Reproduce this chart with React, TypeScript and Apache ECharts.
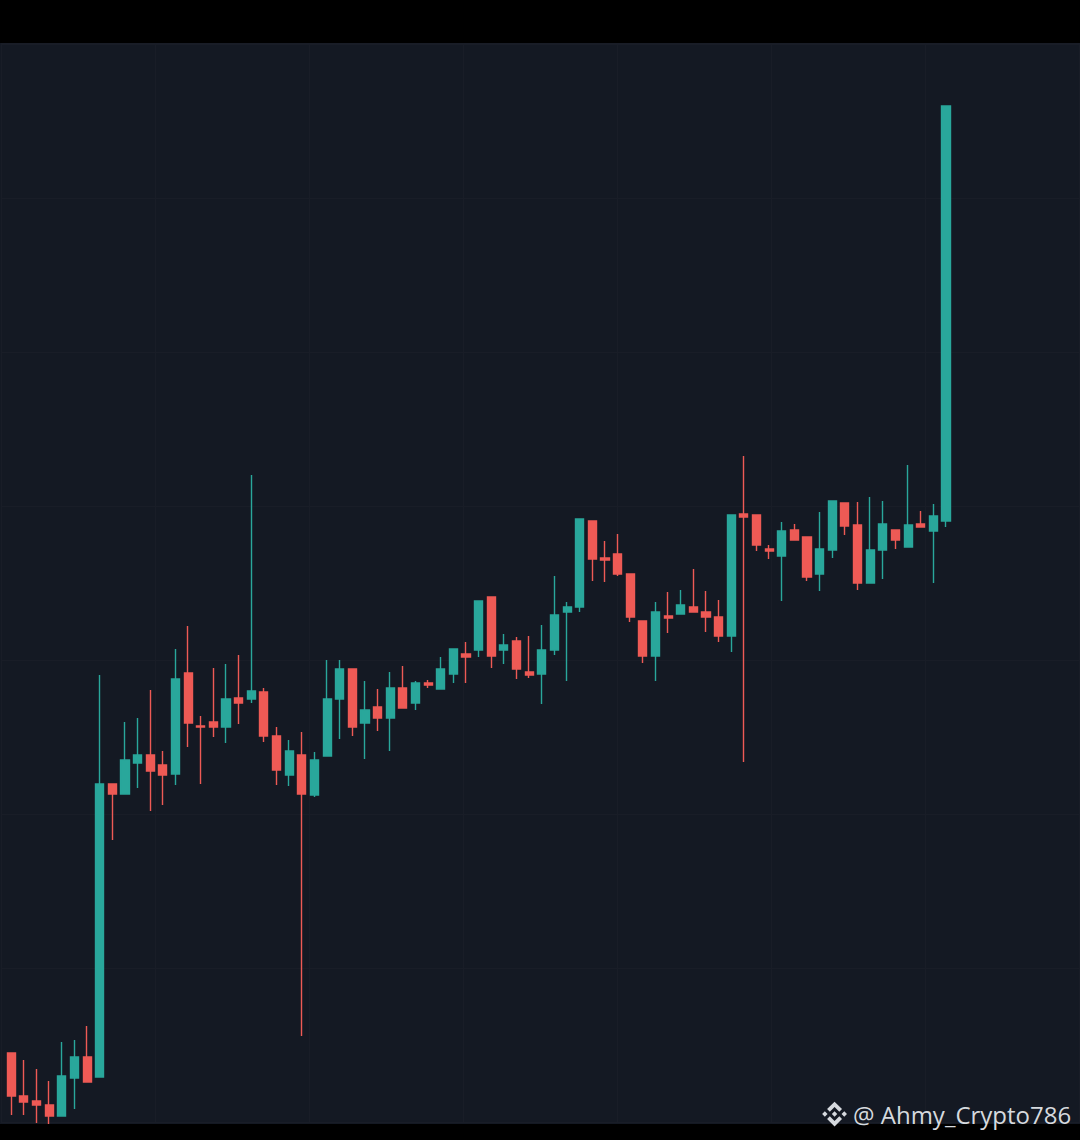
import React, { useEffect, useRef } from "react";
import * as echarts from "echarts";

const opens = [69,26,21,17,6,44,65,45,338,328,359,367,357,348,449,396,400,395,424,423,430,386,347,367,327,366,423,453,399,415,404,434,419,439,433,448,468,472,525,472,481,450,448,472,510,515,601,564,568,548,501,466,506,508,515,510,505,486,608,607,573,566,592,585,548,572,619,597,539,572,592,575,598,591,601];
const closes = [26,20,17,6,46,65,40,338,328,362,367,351,347,443,399,395,395,423,419,431,386,352,371,328,362,423,453,395,412,404,434,414,439,437,453,473,465,521,466,477,453,447,472,507,515,603,563,562,548,505,466,510,504,517,510,505,486,607,605,577,571,591,582,545,573,621,596,539,572,598,582,597,595,606,1016];
const lows = [7,7,-1,-2,6,13,40,45,282,328,334,311,317,337,375,338,385,379,398,419,380,337,336,86,325,366,383,386,363,391,371,414,412,434,433,439,439,465,454,458,443,444,418,467,441,510,541,540,546,500,459,441,489,508,510,490,480,470,360,571,563,521,582,541,531,564,587,532,539,543,573,575,595,539,595];
const highs = [69,62,53,41,80,82,96,447,338,400,404,432,371,473,496,406,454,458,467,647,434,395,382,390,370,462,462,453,441,433,450,456,441,442,465,473,480,521,525,488,485,486,497,546,520,603,601,581,588,548,501,520,530,532,553,531,522,607,666,607,577,600,598,585,610,621,619,620,625,621,592,657,611,618,1016];
const emptySlots = 10;
const watermark = "@ Ahmy_Crypto786";

const UP = "#29a79b";
const DOWN = "#ee5a55";
const GRID = "#191d27";
const BG = "#141923";

echarts.graphic.registerShape(
  "logo",
  echarts.graphic.extendPath(
    "M12 1 L18.6 7.6 L16.2 10 L12 5.8 L7.8 10 L5.4 7.6 Z M3.4 9.6 L5.8 12 L3.4 14.4 L1 12 Z M12 9.6 L14.4 12 L12 14.4 L9.6 12 Z M20.6 9.6 L23 12 L20.6 14.4 L18.2 12 Z M7.8 14 L12 18.2 L16.2 14 L18.6 16.4 L12 23 L5.4 16.4 Z",
    {}
  )
);

export default function App() {
  const ref = useRef<HTMLDivElement>(null);
  useEffect(() => {
    document.body.style.margin = "0";
    const chart = echarts.init(ref.current!, undefined, { renderer: "svg" });
    const categories = Array.from({ length: opens.length + emptySlots }, (_, i) => String(i + 1));
    chart.setOption({
      animation: false,
      backgroundColor: BG,
      grid: [
        { left: 5, top: 43, width: 1073.6, height: 1079, show: false },
        { left: 1, top: 43, right: 0, height: 1079, show: false },
      ],
      xAxis: [
        { type: "category", gridIndex: 0, data: categories, show: false, boundaryGap: true },
        {
          type: "value",
          gridIndex: 1,
          min: 0,
          max: 1079,
          interval: 154,
          axisLine: { show: false },
          axisTick: { show: false },
          axisLabel: { show: false },
          splitLine: { show: true, lineStyle: { color: GRID, width: 1 } },
        },
      ],
      yAxis: [
        { type: "value", gridIndex: 0, min: 0, max: 1079, show: false, scale: false },
        {
          type: "value",
          gridIndex: 1,
          min: 0,
          max: 1079,
          interval: 154,
          axisLine: { show: false },
          axisTick: { show: false },
          axisLabel: { show: false },
          splitLine: { show: true, lineStyle: { color: GRID, width: 1 } },
        },
      ],
      series: [
        {
          type: "candlestick",
          xAxisIndex: 0,
          yAxisIndex: 0,
          clip: false,
          barWidth: 8.6,
          data: opens.map((o, i) => [o, closes[i], lows[i], highs[i]]),
          itemStyle: {
            color: UP,
            color0: DOWN,
            borderColor: UP,
            borderColor0: DOWN,
            borderWidth: 1.4,
          },
          z: 5,
        },
      ],
      graphic: [
        { type: "rect", z: 50, shape: { x: 0, y: 0, width: 1080, height: 43 }, style: { fill: "#000" } },
        { type: "rect", z: 50, shape: { x: 0, y: 1124, width: 1080, height: 16 }, style: { fill: "#000" } },
        { type: "logo", z: 60, x: 821, y: 1100.5, scaleX: 1.13, scaleY: 1.13, style: { fill: "#d6d9de" } },
        {
          type: "text",
          z: 60,
          x: 853,
          y: 1114,
          style: {
            text: watermark,
            fontFamily: "'Open Sans'",
            fontSize: 24,
            fill: "#d6d9de",
            textAlign: "left",
            textVerticalAlign: "middle",
          },
        },
      ],
    });
    return () => chart.dispose();
  }, []);
  return <div ref={ref} style={{ width: 1080, height: 1140 }} />;
}
